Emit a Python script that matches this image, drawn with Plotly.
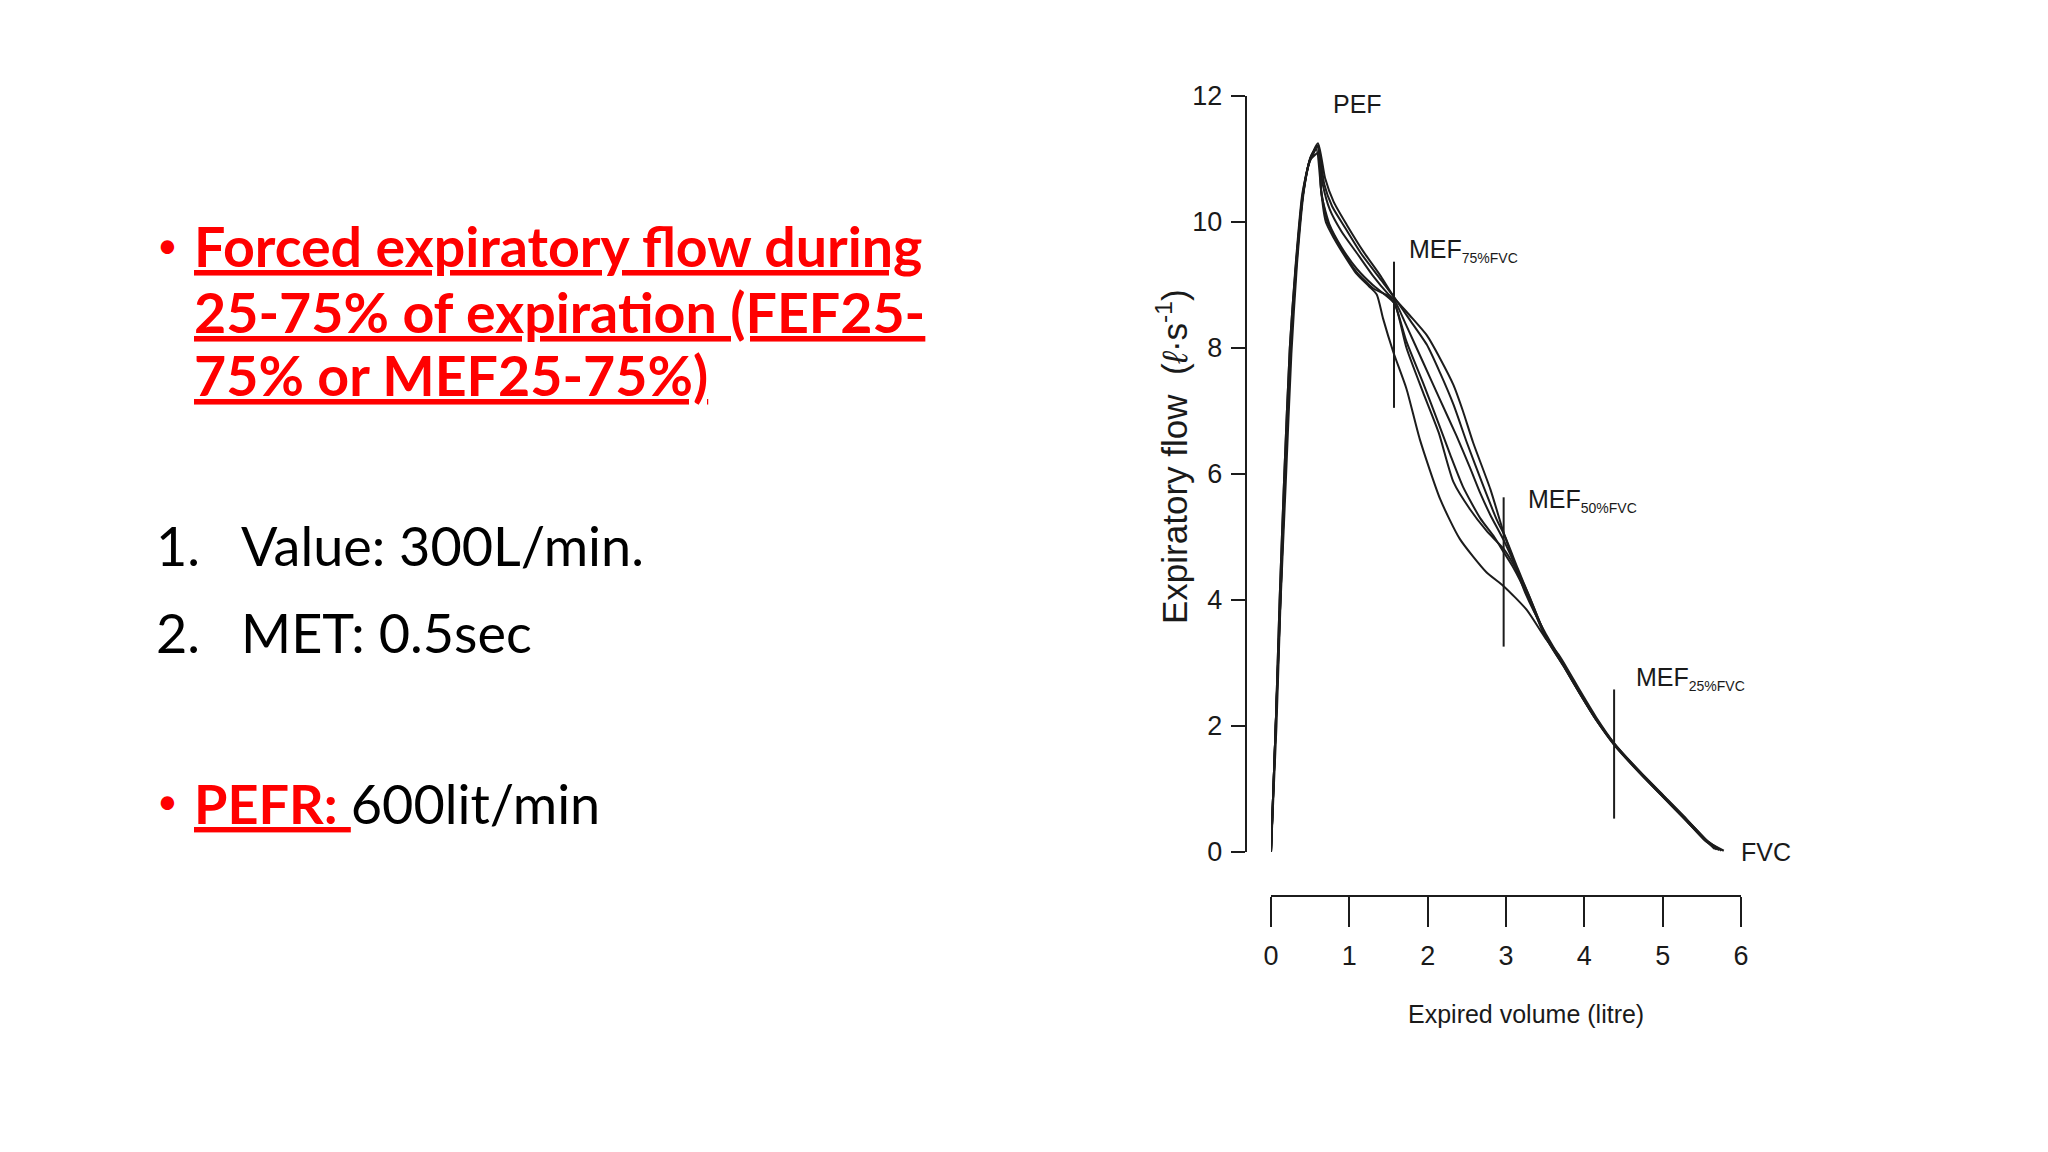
import plotly.graph_objects as go

W, H = 2048, 1152

# ---------------- data ----------------
# Expired volume (litre) / Expiratory flow (l/s) for the six overlaid manoeuvres
curve1_x = [0.00, 0.06, 0.12, 0.18, 0.25, 0.32, 0.41, 0.50, 0.60, 0.69, 0.80, 0.97, 1.18, 1.39, 1.58, 1.77, 1.99, 2.16, 2.33, 2.45, 2.58, 2.80, 2.97, 3.09, 3.25, 3.50, 3.75, 3.95, 4.15, 4.38, 4.70, 5.00, 5.30, 5.55, 5.75]
curve1_y = [0.00, 2.00, 4.00, 6.00, 8.00, 9.30, 10.45, 11.00, 11.25, 10.70, 10.32, 9.95, 9.53, 9.16, 8.79, 8.52, 8.20, 7.83, 7.41, 7.00, 6.50, 5.76, 5.07, 4.65, 4.10, 3.48, 2.95, 2.52, 2.12, 1.72, 1.28, 0.90, 0.52, 0.20, 0.02]

curve2_x = [0.00, 0.06, 0.12, 0.18, 0.25, 0.32, 0.41, 0.50, 0.60, 0.68, 0.78, 0.95, 1.15, 1.38, 1.58, 1.77, 1.99, 2.16, 2.33, 2.50, 2.71, 2.88, 2.99, 3.15, 3.30, 3.50, 3.75, 3.95, 4.15, 4.38, 4.70, 5.00, 5.30, 5.55, 5.72]
curve2_y = [0.00, 2.00, 4.00, 6.00, 8.00, 9.30, 10.45, 11.00, 11.22, 10.60, 10.25, 9.90, 9.50, 9.12, 8.79, 8.45, 8.05, 7.60, 7.10, 6.50, 5.81, 5.28, 5.00, 4.50, 4.05, 3.45, 2.93, 2.50, 2.10, 1.72, 1.27, 0.88, 0.50, 0.18, 0.03]

curve3_x = [0.00, 0.06, 0.11, 0.17, 0.24, 0.31, 0.40, 0.50, 0.59, 0.66, 0.75, 0.90, 1.10, 1.30, 1.50, 1.58, 1.73, 1.95, 2.15, 2.37, 2.54, 2.67, 2.80, 2.97, 3.10, 3.30, 3.50, 3.75, 3.95, 4.15, 4.38, 4.70, 5.00, 5.30, 5.55, 5.70]
curve3_y = [0.00, 2.00, 4.00, 6.00, 8.00, 9.25, 10.45, 11.00, 11.20, 10.60, 10.20, 9.85, 9.50, 9.15, 8.85, 8.75, 8.35, 7.75, 7.20, 6.60, 6.10, 5.70, 5.35, 4.95, 4.60, 4.05, 3.45, 2.95, 2.52, 2.12, 1.71, 1.28, 0.90, 0.50, 0.17, 0.04]

curve4_x = [0.00, 0.07, 0.12, 0.19, 0.26, 0.33, 0.42, 0.51, 0.60, 0.64, 0.72, 0.80, 0.92, 1.09, 1.31, 1.48, 1.58, 1.73, 1.94, 2.14, 2.29, 2.45, 2.67, 2.85, 2.97, 3.10, 3.30, 3.50, 3.75, 3.95, 4.15, 4.38, 4.70, 5.00, 5.30, 5.55, 5.78]
curve4_y = [0.00, 2.00, 3.90, 5.90, 7.90, 9.30, 10.50, 11.05, 11.20, 10.50, 10.00, 9.80, 9.53, 9.21, 8.94, 8.84, 8.70, 8.10, 7.45, 6.80, 6.30, 5.80, 5.30, 5.00, 4.76, 4.50, 4.00, 3.42, 2.92, 2.50, 2.10, 1.70, 1.26, 0.88, 0.50, 0.18, 0.02]

curve5_x = [0.00, 0.06, 0.11, 0.17, 0.24, 0.31, 0.40, 0.49, 0.58, 0.65, 0.75, 0.90, 1.10, 1.30, 1.45, 1.58, 1.73, 1.94, 2.14, 2.33, 2.54, 2.75, 2.97, 3.10, 3.30, 3.50, 3.75, 3.95, 4.15, 4.38, 4.70, 5.00, 5.30, 5.55, 5.68]
curve5_y = [0.00, 2.00, 4.00, 6.00, 8.00, 9.20, 10.40, 10.95, 11.15, 10.40, 9.95, 9.60, 9.25, 9.00, 8.85, 8.70, 8.00, 7.30, 6.66, 5.87, 5.44, 5.10, 4.81, 4.55, 4.02, 3.42, 2.92, 2.50, 2.10, 1.71, 1.27, 0.89, 0.52, 0.20, 0.04]

curve6_x = [0.00, 0.06, 0.12, 0.18, 0.25, 0.32, 0.41, 0.51, 0.61, 0.64, 0.70, 0.80, 0.92, 1.09, 1.25, 1.35, 1.43, 1.56, 1.73, 1.90, 2.16, 2.41, 2.75, 2.97, 3.26, 3.50, 3.69, 3.95, 4.15, 4.38, 4.70, 5.00, 5.30, 5.55, 5.66]
curve6_y = [0.00, 2.00, 4.00, 6.00, 8.00, 9.25, 10.45, 11.00, 11.10, 10.50, 10.00, 9.75, 9.50, 9.18, 8.98, 8.85, 8.47, 7.94, 7.35, 6.55, 5.60, 4.97, 4.44, 4.22, 3.85, 3.40, 3.10, 2.55, 2.14, 1.73, 1.29, 0.91, 0.53, 0.19, 0.05]

curves = [(curve1_x, curve1_y), (curve2_x, curve2_y), (curve3_x, curve3_y),
          (curve4_x, curve4_y), (curve5_x, curve5_y), (curve6_x, curve6_y)]

# MEF markers (volume position, top and bottom of the marker bar)
mef_names = ["75%FVC", "50%FVC", "25%FVC"]
mef_x = [1.57, 2.97, 4.38]
mef_top = [9.37, 5.63, 2.58]
mef_bottom = [7.05, 3.26, 0.53]

x_ticks = [0, 1, 2, 3, 4, 5, 6]
y_ticks = [0, 2, 4, 6, 8, 10, 12]

# ---------------- figure ----------------
LINE = "#1c1c1c"
CHART_FONT = "Liberation Sans, Arial, Helvetica, sans-serif"
SLIDE = "Lato, Carlito, Calibri, sans-serif"

fig = go.Figure()
for cx, cy in curves:
    fig.add_trace(go.Scatter(x=cx, y=cy, mode="lines",
                             line=dict(color=LINE, width=2.0, shape="spline", smoothing=0.6),
                             hoverinfo="skip", showlegend=False))

mx, my = [], []
for xv, t, b in zip(mef_x, mef_top, mef_bottom):
    mx += [xv, xv, None]
    my += [t, b, None]
fig.add_trace(go.Scatter(x=mx, y=my, mode="lines", line=dict(color=LINE, width=2),
                         hoverinfo="skip", showlegend=False))


def px(xp):
    return xp / W


def py(yp):
    return 1 - yp / H


fig.update_layout(
    width=W, height=H,
    margin=dict(l=0, r=0, t=0, b=0, pad=0, autoexpand=False),
    paper_bgcolor="white", plot_bgcolor="white",
    showlegend=False,
    xaxis=dict(domain=[px(1271), px(1741)], range=[0, 6], anchor="free", position=py(896),
               automargin=False,
               showline=True, linecolor=LINE, linewidth=2.4, showgrid=False, zeroline=False,
               tickmode="array", tickvals=x_ticks, ticktext=[str(v) for v in x_ticks],
               ticks="outside", ticklen=30, tickwidth=2.2, tickcolor=LINE, ticklabelstandoff=5,
               tickfont=dict(family=CHART_FONT, size=27, color="#1a1a1a")),
    yaxis=dict(domain=[py(852), py(96)], range=[0, 12], anchor="free", position=px(1246),
               automargin=False,
               showline=True, linecolor=LINE, linewidth=2.4, showgrid=False, zeroline=False,
               tickmode="array", tickvals=y_ticks, ticktext=[str(v) for v in y_ticks],
               ticks="outside", ticklen=14, tickwidth=2.2, tickcolor=LINE, ticklabelstandoff=3,
               tickfont=dict(family=CHART_FONT, size=27, color="#1a1a1a")),
)

ann = []
# chart labels
ann.append(dict(x=px(1357), y=py(104), xref="paper", yref="paper", text="PEF", showarrow=False,
                font=dict(family=CHART_FONT, size=25, color="#1a1a1a"), xanchor="center", yanchor="middle"))
mef_label_pos = [(1407, 251), (1526, 501), (1634, 678)]
for name, (lx, ly) in zip(mef_names, mef_label_pos):
    ann.append(dict(x=px(lx), y=py(ly), xref="paper", yref="paper",
                    text="MEF<sub><span style='font-size:14px'>%s</span></sub>" % name, showarrow=False,
                    font=dict(family=CHART_FONT, size=25, color="#1a1a1a"), xanchor="left", yanchor="middle"))
ann.append(dict(x=px(1739), y=py(852), xref="paper", yref="paper", text="FVC", showarrow=False,
                font=dict(family=CHART_FONT, size=25, color="#1a1a1a"), xanchor="left", yanchor="middle"))
ann.append(dict(x=px(1526), y=py(1014), xref="paper", yref="paper", text="Expired volume (litre)", showarrow=False,
                font=dict(family=CHART_FONT, size=25, color="#1a1a1a"), xanchor="center", yanchor="middle"))
ann.append(dict(x=px(1172), y=py(457), xref="paper", yref="paper", textangle=-90,
                text="Expiratory flow  (<i>ℓ</i>·s<sup>-1</sup>)", showarrow=False,
                font=dict(family=CHART_FONT, size=35, color="#1a1a1a"),
                xanchor="center", yanchor="middle"))

# slide text
RED = "#ff0000"
ann.append(dict(x=px(167), y=py(244), xref="paper", yref="paper", text="•", showarrow=False,
                font=dict(family=SLIDE, size=36, color=RED), xanchor="center", yanchor="middle"))
title_lines = ["Forced expiratory flow during", "25-75% of expiration (FEF25-", "75% or MEF25-75%)"]
title_y = [246, 311, 375]
for line, ty in zip(title_lines, title_y):
    ann.append(dict(x=px(192), y=py(ty), xref="paper", yref="paper",
                    text="<b><u>%s</u></b>" % line, showarrow=False,
                    font=dict(family=SLIDE, size=55.5, color=RED), xanchor="left", yanchor="middle"))
num_items = ["Value: 300L/min.", "MET: 0.5sec"]
num_y = [546, 632]
for i, (item, ny) in enumerate(zip(num_items, num_y)):
    ann.append(dict(x=px(154), y=py(ny), xref="paper", yref="paper", text="%d." % (i + 1),
                    showarrow=False, font=dict(family=SLIDE, size=54, color="black"),
                    xanchor="left", yanchor="middle"))
    ann.append(dict(x=px(239), y=py(ny), xref="paper", yref="paper", text=item,
                    showarrow=False, font=dict(family=SLIDE, size=54, color="black"),
                    xanchor="left", yanchor="middle"))
ann.append(dict(x=px(167), y=py(800), xref="paper", yref="paper", text="•", showarrow=False,
                font=dict(family=SLIDE, size=36, color=RED), xanchor="center", yanchor="middle"))
ann.append(dict(x=px(192), y=py(803), xref="paper", yref="paper",
                text="<span style='color:#ff0000'><b><u>PEFR: </u></b></span>600lit/min", showarrow=False,
                font=dict(family=SLIDE, size=54, color="black"), xanchor="left", yanchor="middle"))

fig.update_layout(annotations=ann)
fig.write_html("out.html")
